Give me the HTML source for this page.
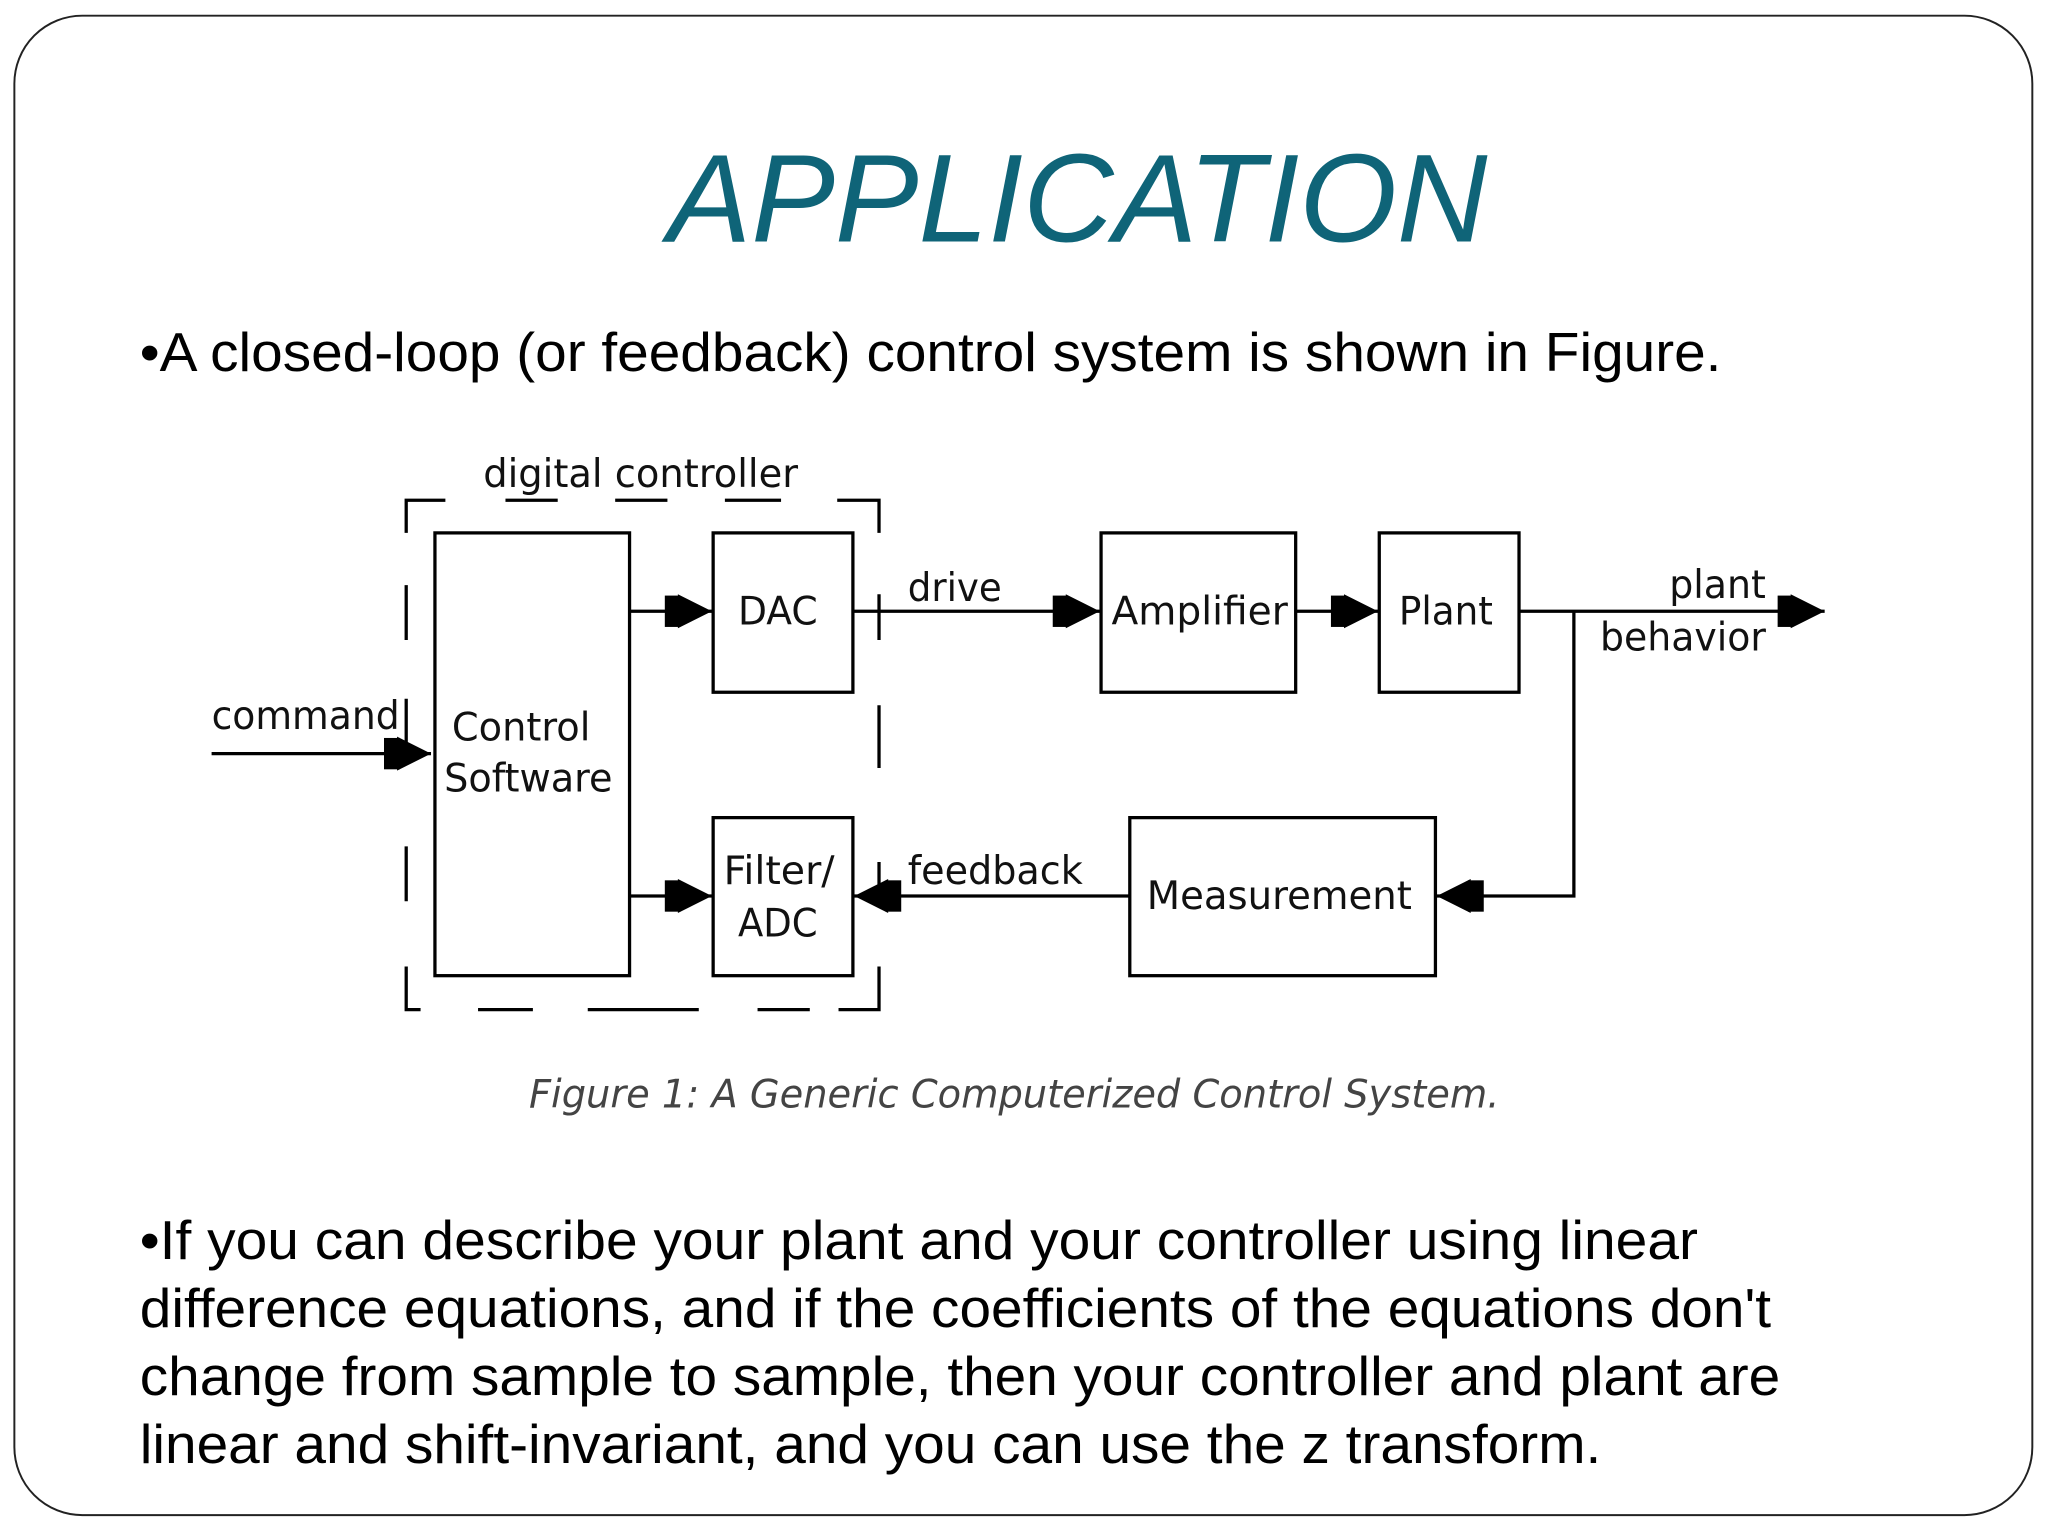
<!DOCTYPE html>
<html><head><meta charset="utf-8"><style>html,body{margin:0;padding:0;background:#fff;}svg{display:block;}</style></head>
<body>
<svg width="2048" height="1536" viewBox="0 0 1568 1176" preserveAspectRatio="none" xmlns="http://www.w3.org/2000/svg">
<rect x="11" y="12" width="1545" height="1148" rx="52" fill="#fff" stroke="#222" stroke-width="1.5"/>
<text x="825" y="185" text-anchor="middle" font-family="Liberation Sans, sans-serif" font-style="italic" font-size="96" fill="#0f6478">APPLICATION</text>
<g font-family="Liberation Sans, sans-serif" font-size="42" fill="#000" lengthAdjust="spacingAndGlyphs">
<text x="107" y="284" textLength="1211" lengthAdjust="spacingAndGlyphs">•A closed-loop (or feedback) control system is shown in Figure.</text>
<text x="107" y="964" textLength="1193" lengthAdjust="spacingAndGlyphs">•If you can describe your plant and your controller using linear</text>
<text x="107" y="1016" textLength="1249" lengthAdjust="spacingAndGlyphs">difference equations, and if the coefficients of the equations don't</text>
<text x="107" y="1068" textLength="1256" lengthAdjust="spacingAndGlyphs">change from sample to sample, then your controller and plant are</text>
<text x="107" y="1120" textLength="1119" lengthAdjust="spacingAndGlyphs">linear and shift-invariant, and you can use the z transform.</text>
</g>
<defs>
<g id="ar"><rect x="-36" y="-12" width="12" height="24" fill="#000"/><polygon points="-26,-13 0,0 -26,13" fill="#000"/></g>
</defs>
<g fill="none" stroke="#000" stroke-width="2.5">
<rect x="333" y="408" width="149" height="339"/>
<rect x="546" y="408" width="107" height="122"/>
<rect x="546" y="626" width="107" height="121"/>
<rect x="843" y="408" width="149" height="122"/>
<rect x="1056" y="408" width="107" height="122"/>
<rect x="865" y="626" width="234" height="121"/>
<path d="M311 408V383H341 M387 383H427 M471 383H511 M555 383H598 M641 383H673V408 M311 448V490 M311 535V572 M311 648V690 M311 740V773H322 M366 773H408 M450 773H535 M580 773H620 M642 773H673V740 M673 540V588 M673 455V490 M673 660V690"/>
<path d="M162 577H330 M482 468H546 M482 686H546 M653 468H843 M992 468H1056 M1163 468H1397 M1205 468V686H1099 M865 686H653"/>
</g>
<use href="#ar" transform="translate(330,577)"/>
<use href="#ar" transform="translate(545,468)"/>
<use href="#ar" transform="translate(545,686)"/>
<use href="#ar" transform="translate(842,468)"/>
<use href="#ar" transform="translate(1055,468)"/>
<use href="#ar" transform="translate(1397,468)"/>
<use href="#ar" transform="translate(654,686) scale(-1,1)"/>
<use href="#ar" transform="translate(1100,686) scale(-1,1)"/>
<g font-family="DejaVu Sans, sans-serif" font-size="30" fill="#111">
<text x="370" y="373" textLength="241" lengthAdjust="spacingAndGlyphs">digital controller</text>
<text x="162" y="558" textLength="144" lengthAdjust="spacingAndGlyphs">command</text>
<text x="346" y="567" textLength="106" lengthAdjust="spacingAndGlyphs">Control</text>
<text x="340" y="606" textLength="129" lengthAdjust="spacingAndGlyphs">Software</text>
<text x="565" y="478" textLength="61" lengthAdjust="spacingAndGlyphs">DAC</text>
<text x="554" y="677" textLength="85" lengthAdjust="spacingAndGlyphs">Filter/</text>
<text x="565" y="717" textLength="61" lengthAdjust="spacingAndGlyphs">ADC</text>
<text x="695" y="460" textLength="72" lengthAdjust="spacingAndGlyphs">drive</text>
<text x="695" y="677" textLength="134" lengthAdjust="spacingAndGlyphs">feedback</text>
<text x="851" y="478" textLength="135" lengthAdjust="spacingAndGlyphs">Amplifier</text>
<text x="1071" y="478" textLength="72" lengthAdjust="spacingAndGlyphs">Plant</text>
<text x="878" y="696" textLength="203" lengthAdjust="spacingAndGlyphs">Measurement</text>
<text x="1278" y="458" textLength="74" lengthAdjust="spacingAndGlyphs">plant</text>
<text x="1225" y="498" textLength="127" lengthAdjust="spacingAndGlyphs">behavior</text>
</g>
<text x="405" y="848" textLength="743" lengthAdjust="spacingAndGlyphs" font-family="DejaVu Sans, sans-serif" font-style="italic" font-size="30" fill="#444">Figure 1: A Generic Computerized Control System.</text>
</svg>
</body></html>
